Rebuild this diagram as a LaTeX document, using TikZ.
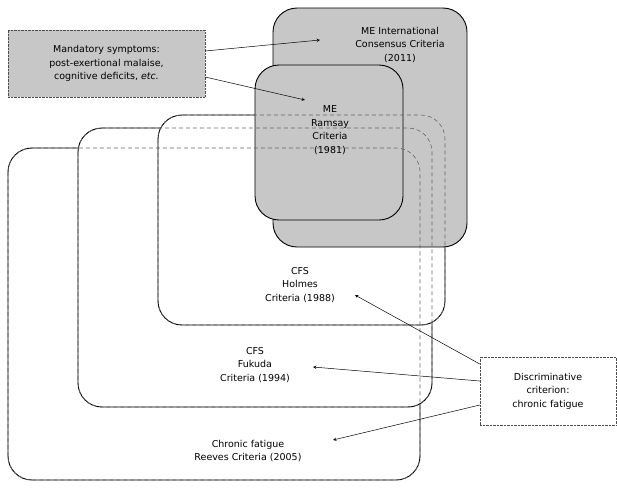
\documentclass[tikz,border=0pt]{standalone}
\usepackage{fontspec}
\setmainfont{DejaVu Sans}
\begin{document}
\begin{tikzpicture}[x=1pt,y=-1pt,
  crit/.style={draw=black,line width=0.9pt,rounded corners=24pt},
  hidden/.style={draw=black!60,line width=0.6pt,rounded corners=24pt,dash pattern=on 4pt off 3pt},
  lbl/.style={font=\fontsize{9.5}{13.5}\selectfont,align=center},
  note/.style={draw=black!70,densely dotted,font=\fontsize{9.5}{13.5}\selectfont,align=center,inner sep=0pt},
  arr/.style={-stealth,line width=0.5pt}]
\useasboundingbox (0,0) rectangle (617,490);
% white criteria
\path[crit,fill=white] (8,148) rectangle (420,480);
\path[crit,fill=white] (78,128) rectangle (432,407);
\path[crit,fill=white] (158,115) rectangle (445,325);
% grey criteria
\path[crit,fill=black!22] (273,8) rectangle (467,247);
\path[crit,fill=black!22] (255,65) rectangle (403,220);
% hidden outlines
\path[hidden] (8,148) rectangle (420,480);
\path[hidden] (78,128) rectangle (432,407);
\path[hidden] (158,115) rectangle (445,325);
% labels
\node[lbl] (icc) at (400,45) {ME International\\Consensus Criteria\\(2011)};
\node[lbl] (ram) at (330,130) {ME\\Ramsay\\Criteria\\(1981)};
\node[lbl] (hol) at (300,285) {CFS\\Holmes\\Criteria (1988)};
\node[lbl] (fuk) at (255,365) {CFS\\Fukuda\\Criteria (1994)};
\node[lbl] (ree) at (248,451) {Chronic fatigue\\Reeves Criteria (2005)};
% notes
\node[note,fill=black!22,minimum width=197pt,minimum height=67pt] (mand) at (106.5,63.5)
  {Mandatory symptoms:\\post-exertional malaise,\\cognitive deficits, \emph{etc.}};
\node[note,fill=white,minimum width=136pt,minimum height=68pt] (disc) at (548,391)
  {Discriminative\\criterion:\\chronic fatigue};
\coordinate (a1) at (320,40);
\coordinate (a2) at (305,100);
\coordinate (b1) at (355,295);
\coordinate (b2) at (313,367);
\coordinate (b3) at (333,440);
\draw[arr] (mand.east |- 0,51) -- (a1);
\draw[arr] (mand.east |- 0,77) -- (a2);
\draw[arr] (disc.west |- 0,364) -- (b1);
\draw[arr] (disc.west |- 0,381) -- (b2);
\draw[arr] (disc.west |- 0,405) -- (b3);
\end{tikzpicture}
\end{document}
